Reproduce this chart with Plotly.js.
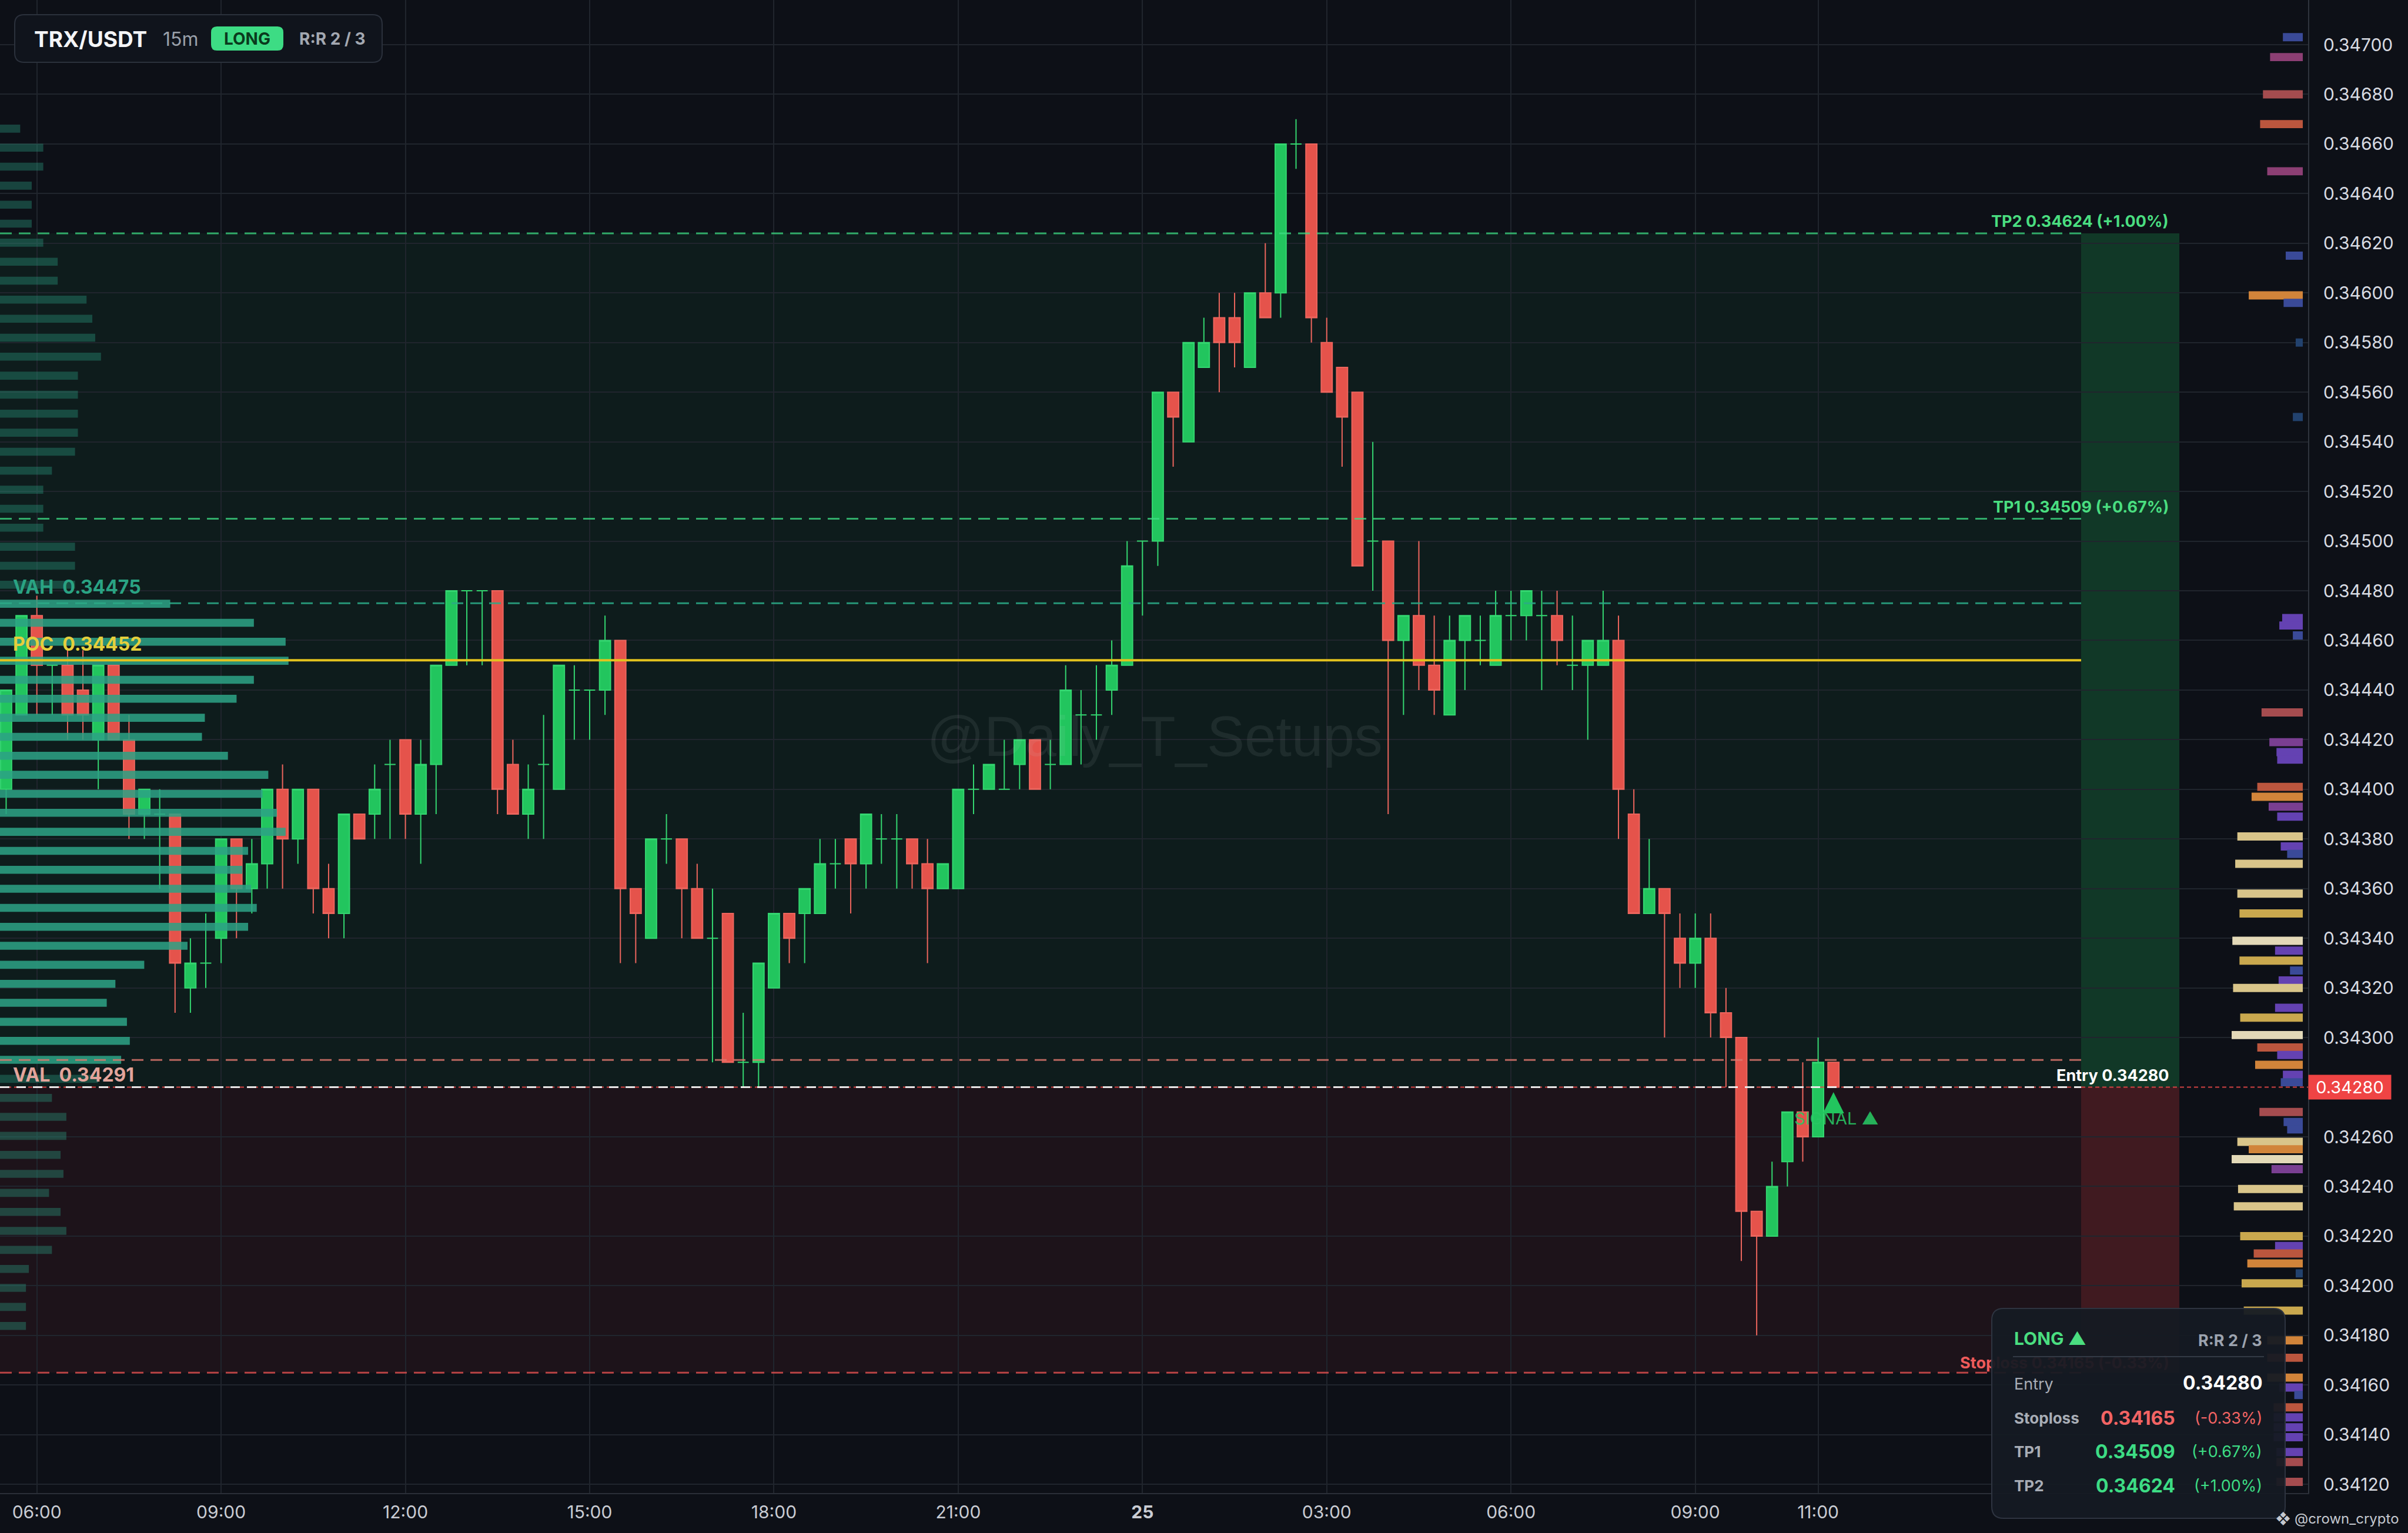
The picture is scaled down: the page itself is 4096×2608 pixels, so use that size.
<!DOCTYPE html>
<html>
<head>
<meta charset="utf-8">
<script src="https://cdn.plot.ly/plotly-3.0.1.min.js"></script>
<style>
  html, body { margin: 0; padding: 0; background: #0d1017; }
  #chart { width: 4096px; height: 2608px; }
</style>
</head>
<body>
<div id="chart"></div>
<script>
// ---------------- DATA ----------------
const firstCandle = Date.UTC(2025, 0, 24, 5, 30); // 24th 05:30, 15m candles
const candleMinutes = 15;

const open = [
  0.34400,0.34430,0.34470,0.34450,0.34450,0.34440,0.34420,0.34450,0.34420,0.34390,
  0.34390,0.34390,0.34320,0.34330,0.34340,0.34380,0.34360,0.34370,0.34400,0.34380,
  0.34400,0.34360,0.34350,0.34390,0.34390,0.34410,0.34420,0.34390,0.34410,0.34450,
  0.34480,0.34480,0.34480,0.34410,0.34390,0.34410,0.34400,0.34440,0.34440,0.34440,
  0.34460,0.34360,0.34340,0.34380,0.34380,0.34360,0.34340,0.34350,0.34290,0.34290,
  0.34320,0.34350,0.34350,0.34350,0.34370,0.34380,0.34370,0.34380,0.34380,0.34380,
  0.34370,0.34360,0.34360,0.34400,0.34400,0.34400,0.34410,0.34420,0.34410,0.34410,
  0.34430,0.34430,0.34440,0.34450,0.34500,0.34500,0.34560,0.34540,0.34570,0.34590,
  0.34590,0.34570,0.34600,0.34600,0.34660,0.34660,0.34580,0.34570,0.34560,0.34500,
  0.34500,0.34460,0.34470,0.34450,0.34430,0.34460,0.34460,0.34450,0.34470,0.34470,
  0.34470,0.34470,0.34450,0.34450,0.34450,0.34460,0.34390,0.34350,0.34360,0.34340,
  0.34330,0.34340,0.34310,0.34300,0.34230,0.34220,0.34250,0.34270,0.34260,0.34290
];
const high = [
  0.34440,0.34470,0.34478,0.34450,0.34456,0.34456,0.34450,0.34450,0.34430,0.34400,
  0.34400,0.34390,0.34340,0.34350,0.34380,0.34380,0.34380,0.34400,0.34410,0.34400,
  0.34400,0.34370,0.34390,0.34390,0.34410,0.34420,0.34420,0.34420,0.34450,0.34480,
  0.34480,0.34480,0.34480,0.34420,0.34410,0.34430,0.34450,0.34450,0.34440,0.34470,
  0.34460,0.34360,0.34380,0.34390,0.34380,0.34370,0.34360,0.34350,0.34310,0.34330,
  0.34350,0.34350,0.34360,0.34380,0.34380,0.34380,0.34390,0.34390,0.34390,0.34380,
  0.34380,0.34370,0.34400,0.34410,0.34410,0.34420,0.34420,0.34420,0.34420,0.34450,
  0.34440,0.34450,0.34460,0.34500,0.34500,0.34560,0.34560,0.34580,0.34590,0.34600,
  0.34600,0.34600,0.34620,0.34660,0.34670,0.34660,0.34590,0.34570,0.34560,0.34540,
  0.34500,0.34470,0.34500,0.34470,0.34470,0.34470,0.34470,0.34480,0.34480,0.34480,
  0.34480,0.34480,0.34470,0.34460,0.34480,0.34470,0.34400,0.34380,0.34360,0.34350,
  0.34350,0.34350,0.34320,0.34300,0.34230,0.34250,0.34270,0.34290,0.34300,0.34290
];
const low = [
  0.34390,0.34430,0.34430,0.34430,0.34420,0.34420,0.34400,0.34420,0.34380,0.34380,
  0.34360,0.34310,0.34310,0.34320,0.34330,0.34340,0.34350,0.34360,0.34360,0.34370,
  0.34350,0.34340,0.34340,0.34380,0.34380,0.34380,0.34380,0.34370,0.34390,0.34450,
  0.34450,0.34450,0.34390,0.34390,0.34380,0.34380,0.34400,0.34420,0.34420,0.34430,
  0.34330,0.34330,0.34340,0.34370,0.34340,0.34340,0.34290,0.34290,0.34280,0.34280,
  0.34320,0.34330,0.34330,0.34350,0.34360,0.34350,0.34360,0.34370,0.34360,0.34360,
  0.34330,0.34360,0.34360,0.34390,0.34400,0.34400,0.34400,0.34400,0.34400,0.34410,
  0.34410,0.34420,0.34430,0.34450,0.34470,0.34490,0.34530,0.34540,0.34570,0.34560,
  0.34570,0.34570,0.34590,0.34590,0.34650,0.34580,0.34560,0.34530,0.34490,0.34480,
  0.34390,0.34430,0.34440,0.34430,0.34430,0.34440,0.34450,0.34450,0.34460,0.34460,
  0.34440,0.34450,0.34440,0.34420,0.34450,0.34380,0.34350,0.34350,0.34300,0.34320,
  0.34320,0.34300,0.34280,0.34210,0.34180,0.34220,0.34240,0.34250,0.34260,0.34280
];
const close = [
  0.34440,0.34470,0.34450,0.34450,0.34430,0.34430,0.34450,0.34420,0.34390,0.34400,
  0.34390,0.34330,0.34330,0.34330,0.34380,0.34360,0.34370,0.34400,0.34380,0.34400,
  0.34360,0.34350,0.34390,0.34380,0.34400,0.34410,0.34390,0.34410,0.34450,0.34480,
  0.34480,0.34480,0.34400,0.34390,0.34400,0.34410,0.34450,0.34440,0.34440,0.34460,
  0.34360,0.34350,0.34380,0.34380,0.34360,0.34340,0.34340,0.34290,0.34290,0.34330,
  0.34350,0.34340,0.34360,0.34370,0.34370,0.34370,0.34390,0.34380,0.34380,0.34370,
  0.34360,0.34370,0.34400,0.34400,0.34410,0.34400,0.34420,0.34400,0.34410,0.34440,
  0.34430,0.34430,0.34450,0.34490,0.34500,0.34560,0.34550,0.34580,0.34580,0.34580,
  0.34580,0.34600,0.34590,0.34660,0.34660,0.34590,0.34560,0.34550,0.34490,0.34500,
  0.34460,0.34470,0.34450,0.34440,0.34460,0.34470,0.34460,0.34470,0.34470,0.34480,
  0.34470,0.34460,0.34450,0.34460,0.34460,0.34400,0.34350,0.34360,0.34350,0.34330,
  0.34340,0.34310,0.34300,0.34230,0.34220,0.34240,0.34270,0.34260,0.34290,0.34280
];

// time axis ticks
const xTickVals = ['2025-01-24 06:00','2025-01-24 09:00','2025-01-24 12:00','2025-01-24 15:00',
  '2025-01-24 18:00','2025-01-24 21:00','2025-01-25 00:00','2025-01-25 03:00',
  '2025-01-25 06:00','2025-01-25 09:00','2025-01-25 11:00'];
const xTickText = ['06:00','09:00','12:00','15:00','18:00','21:00','<b>25</b>','03:00','06:00','09:00','11:00'];

// price axis ticks (0.34280 is covered by the live price tag)
const yTickVals = [0.34120,0.34140,0.34160,0.34180,0.34200,0.34220,0.34240,0.34260,
  0.34300,0.34320,0.34340,0.34360,0.34380,0.34400,0.34420,0.34440,0.34460,0.34480,
  0.34500,0.34520,0.34540,0.34560,0.34580,0.34600,0.34620,0.34640,0.34660,0.34680,0.34700];

// trade levels
const entry = 0.34280, stoploss = 0.34165, tp1 = 0.34509, tp2 = 0.34624;
const poc = 0.34452, vah = 0.34475, val = 0.34291;

// volume profile (64 bins from profile high to low), relative volume (POC = 100)
const profileHigh = 0.34670, profileLow = 0.34180;
const profileVolume = [
  7,15,15,11,11,11,15,20,20,30,32,33,35,27,27,27,27,26,18,15,15,15,26,26,26,
  59,88,99,100,88,82,71,70,79,93,91,96,99,86,84,87,89,86,65,50,40,37,44,45,42,
  34,18,23,23,21,22,17,21,23,18,10,9,9,9
];

// order-book depth bars on the right (price, relative size, kind)
const depthPrice = [
  0.34703,0.34695,0.34680,0.34668,0.34649,0.34615,0.34599,0.34596,0.34580,0.34550,
  0.34469,0.34466,0.34462,0.34431,0.34419,0.34415,0.34412,0.34401,0.34397,0.34393,
  0.34389,0.34381,0.34377,0.34374,0.34370,0.34358,0.34350,0.34339,0.34335,0.34331,
  0.34327,0.34323,0.34320,0.34312,0.34308,0.34301,0.34296,0.34293,0.34289,0.34285,
  0.34282,0.34270,0.34266,0.34263,0.34258,0.34255,0.34251,0.34247,0.34239,0.34232,
  0.34220,0.34216,0.34213,0.34209,0.34205,0.34201,0.34190,0.34178,0.34171,0.34163,
  0.34159,0.34156,0.34151,0.34147,0.34143,0.34139,0.34133,0.34129,0.34121
];
const depthSize = [
  28,46,56,60,50,24,76,27,10,14,
  29,33,14,58,47,37,36,64,72,48,
  36,92,31,22,95,92,89,99,39,89,
  18,34,98,39,88,100,64,36,67,28,
  31,61,27,22,92,76,100,44,91,97,
  88,39,69,78,10,86,83,50,50,50,
  33,12,41,41,41,41,37,37,37
];
const depthKind = [
  'blue','magenta','salmon','rust','magenta','blue','orange','blue','navy','navy',
  'violet','violet','blue','salmon','purple','violet','violet','rust','orange','purple',
  'violet','cream','violet','blue','cream','cream','gold','pale','violet','gold',
  'blue','violet','cream','violet','gold','pale','rust','violet','orange','violet',
  'blue','salmon','blue','blue','cream','orange','pale','purple','cream','cream',
  'gold','violet','rust','orange','navy','gold','gold','orange','rust','orange',
  'violet','blue','rust','violet','violet','violet','violet','salmon','salmon'
];

// ---------------- BUILD ----------------
const FONT = 'Inter, "Noto Sans", Roboto, sans-serif';
const PW = 3926, PH = 2540;              // plot area size in px
const px = v => v / PW;                  // px -> paper x
const py = v => 1 - v / PH;              // px -> paper y

function fmt(ms) {
  const d = new Date(ms), p = n => String(n).padStart(2, '0');
  return d.getUTCFullYear() + '-' + p(d.getUTCMonth() + 1) + '-' + p(d.getUTCDate()) + ' ' + p(d.getUTCHours()) + ':' + p(d.getUTCMinutes());
}
const times = open.map((_, i) => fmt(firstCandle + i * candleMinutes * 60000));

const up = { x: [], o: [], h: [], l: [], c: [] }, dn = { x: [], o: [], h: [], l: [], c: [] };
open.forEach((o, i) => {
  const t = close[i] >= o ? up : dn;
  t.x.push(times[i]); t.o.push(o); t.h.push(high[i]); t.l.push(low[i]); t.c.push(close[i]);
});

const GREEN = '#22c55e', GREEN_LINE = '#34d670';
const RED = '#e5534b', RED_LINE = '#ec655d';

const binSize = (profileHigh - profileLow) / profileVolume.length;
const profilePrice = profileVolume.map((_, k) => profileHigh - (k + 0.5) * binSize);
const profileColor = profilePrice.map(p => (p >= val - 1e-6 && p <= vah + 1e-6) ? 'rgba(44,162,133,0.86)' : 'rgba(44,162,133,0.36)');

const depthPalette = {
  blue: '#3a4a98', navy: '#22426e', magenta: '#8c3f74', salmon: '#a54c4f', rust: '#bb563e',
  orange: '#d1843a', violet: '#6442b2', purple: '#7a3f92', cream: '#d9c58a', gold: '#c9a84e', pale: '#e3d9b8'
};

const traces = [
  { // watermark (under candles)
    type: 'scatter', mode: 'text', x: ['2025-01-25 00:12'], y: [0.344191],
    text: ['@Daily_T_Setups'], textposition: 'middle center', cliponaxis: false,
    textfont: { family: '"Liberation Sans", Arial, sans-serif', size: 96, color: 'rgba(200,206,214,0.09)' },
    hoverinfo: 'skip', showlegend: false
  },
  { // stoploss label (sits under the info panel)
    type: 'scatter', mode: 'text', x: ['2025-01-25 16:43'], y: [stoploss],
    text: ['<b>Stoploss ' + stoploss.toFixed(5) + ' (-0.33%)</b>'], textposition: 'top left',
    textfont: { family: FONT, size: 27, color: '#ef5b5b' }, cliponaxis: false,
    hoverinfo: 'skip', showlegend: false
  },
  {
    type: 'candlestick', x: up.x, open: up.o, high: up.h, low: up.l, close: up.c,
    increasing: { line: { color: GREEN_LINE, width: 2 }, fillcolor: GREEN },
    decreasing: { line: { color: GREEN_LINE, width: 2 }, fillcolor: GREEN },
    whiskerwidth: 0, hoverinfo: 'skip', showlegend: false
  },
  {
    type: 'candlestick', x: dn.x, open: dn.o, high: dn.h, low: dn.l, close: dn.c,
    increasing: { line: { color: RED_LINE, width: 2 }, fillcolor: RED },
    decreasing: { line: { color: RED_LINE, width: 2 }, fillcolor: RED },
    whiskerwidth: 0, hoverinfo: 'skip', showlegend: false
  },
  { // signal label (drawn over the candles)
    type: 'scatter', mode: 'text', x: ['2025-01-25 11:18'], y: [0.342666],
    text: ['SIGNAL ▲'], textposition: 'middle center',
    textfont: { family: FONT, size: 29, color: 'rgba(40,200,100,0.9)' },
    hoverinfo: 'skip', showlegend: false
  },
  { // volume profile
    type: 'bar', orientation: 'h', x: profileVolume, y: profilePrice, xaxis: 'x2', yaxis: 'y',
    width: binSize * 0.42, marker: { color: profileColor, line: { width: 0 } },
    hoverinfo: 'skip', showlegend: false
  },
  { // depth bars at right edge
    type: 'bar', orientation: 'h', x: depthSize, y: depthPrice, xaxis: 'x3', yaxis: 'y',
    width: 0.000033, marker: { color: depthKind.map(k => depthPalette[k]), line: { width: 0 } },
    hoverinfo: 'skip', showlegend: false
  }
];

// ---------- shapes ----------
function rrect(x0, y0, x1, y1, r) {
  const X = v => px(v).toFixed(6), Y = v => py(v).toFixed(6);
  return `M${X(x0 + r)},${Y(y0)} L${X(x1 - r)},${Y(y0)} Q${X(x1)},${Y(y0)} ${X(x1)},${Y(y0 + r)} ` +
         `L${X(x1)},${Y(y1 - r)} Q${X(x1)},${Y(y1)} ${X(x1 - r)},${Y(y1)} L${X(x0 + r)},${Y(y1)} ` +
         `Q${X(x0)},${Y(y1)} ${X(x0)},${Y(y1 - r)} L${X(x0)},${Y(y0 + r)} Q${X(x0)},${Y(y0)} ${X(x0 + r)},${Y(y0)} Z`;
}
const colStart = px(3540), zoneEnd = px(3707);
function hline(y, x1, color, width, dash) {
  return { type: 'line', xref: 'paper', yref: 'y', x0: 0, x1: x1, y0: y, y1: y, layer: 'above',
           line: { color, width, dash } };
}
const shapes = [
  { type: 'rect', xref: 'paper', yref: 'y', x0: 0, x1: zoneEnd, y0: entry, y1: tp2, layer: 'below', line: { width: 0 }, fillcolor: 'rgba(34,197,94,0.07)' },
  { type: 'rect', xref: 'paper', yref: 'y', x0: colStart, x1: zoneEnd, y0: entry, y1: tp2, layer: 'below', line: { width: 0 }, fillcolor: 'rgba(34,197,94,0.17)' },
  { type: 'rect', xref: 'paper', yref: 'y', x0: 0, x1: zoneEnd, y0: stoploss, y1: entry, layer: 'below', line: { width: 0 }, fillcolor: 'rgba(239,68,68,0.07)' },
  { type: 'rect', xref: 'paper', yref: 'y', x0: colStart, x1: zoneEnd, y0: stoploss, y1: entry, layer: 'below', line: { width: 0 }, fillcolor: 'rgba(239,68,68,0.17)' },
  hline(tp2, colStart, 'rgba(61,220,132,0.75)', 3, '20px,12px'),
  hline(tp1, colStart, 'rgba(61,220,132,0.75)', 3, '20px,12px'),
  hline(vah, colStart, 'rgba(44,170,135,0.85)', 3, '20px,12px'),
  hline(poc, colStart, '#e3c21e', 4, 'solid'),
  hline(val, colStart, 'rgba(225,120,110,0.8)', 3, '20px,12px'),
  hline(entry, 1, 'rgba(229,72,72,0.9)', 2, '7px,5px'),
  hline(entry, colStart, 'rgba(240,240,240,0.95)', 3, '16px,12px'),
  hline(stoploss, colStart, 'rgba(225,80,80,0.8)', 3, '20px,12px'),
  // header panel
  { type: 'path', xref: 'paper', yref: 'paper', layer: 'above', path: rrect(25, 25, 650, 106, 16), fillcolor: '#10141c', line: { color: '#2b313c', width: 2 } },
  { type: 'path', xref: 'paper', yref: 'paper', layer: 'above', path: rrect(359, 45, 482, 86, 10), fillcolor: '#3ddc84', line: { width: 0 } },
  // info panel
  { type: 'path', xref: 'paper', yref: 'paper', layer: 'above', path: rrect(3388, 2226, 3887, 2583, 20), fillcolor: 'rgba(21,26,35,0.95)', line: { color: '#2e3440', width: 2 } },
  { type: 'line', xref: 'paper', yref: 'paper', layer: 'above', x0: px(3424), x1: px(3851), y0: py(2308), y1: py(2308), line: { color: '#333a46', width: 2 } }
];

// ---------- annotations ----------
function note(x, y, text, size, color, xanchor, extra) {
  return Object.assign({ xref: 'paper', yref: 'paper', x, y, text, showarrow: false,
    xanchor: xanchor || 'left', yanchor: 'middle', font: { family: FONT, size, color } }, extra || {});
}
function level(y, text, color, above, shift) {
  return { xref: 'paper', yref: 'y', x: px(20), y, text, showarrow: false, xanchor: 'left',
           yanchor: above ? 'bottom' : 'top', yshift: shift, font: { family: FONT, size: 32, color } };
}
function rlabel(y, text, color) {
  return { xref: 'paper', yref: 'y', x: px(3691), y, text, showarrow: false, xanchor: 'right',
           yanchor: 'bottom', yshift: 2, font: { family: FONT, size: 27, color } };
}
const fx = v => v.toFixed(5);
const annotations = [
  // header
  note(px(56), py(66), '<b>TRX/USDT</b>', 37, '#f4f5f7'),
  note(px(275), py(66), '15m', 32, '#9aa0aa'),
  note(px(420.5), py(66), '<b>LONG</b>', 28, '#0a3a1d', 'center'),
  note(px(507), py(66), '<b>R:R 2 / 3</b>', 28, '#a3a8b1'),
  // profile levels
  level(vah, '<b>VAH  ' + fx(vah) + '</b>', '#2aa383', true, 6),
  level(poc, '<b>POC  ' + fx(poc) + '</b>', '#e5cf3c', true, 6),
  level(val, '<b>VAL  ' + fx(val) + '</b>', '#e3a49b', false, -4),
  // trade levels
  rlabel(tp2, '<b>TP2 ' + fx(tp2) + ' (+1.00%)</b>', '#4ade80'),
  rlabel(tp1, '<b>TP1 ' + fx(tp1) + ' (+0.67%)</b>', '#4ade80'),
  rlabel(entry, '<b>Entry ' + fx(entry) + '</b>', '#ffffff'),
  // price tag on axis
  { xref: 'paper', yref: 'y', x: 1, y: entry, text: fx(entry), showarrow: false, xanchor: 'left', yanchor: 'middle',
    bgcolor: '#ef4444', borderpad: 4, width: 132, height: 33, font: { family: FONT, size: 29, color: '#ffffff' } },
  // signal arrow
  { xref: 'x', yref: 'y', x: '2025-01-25 11:15', y: 0.34278, ax: 0, ay: 26, text: '', showarrow: true,
    arrowhead: 2, arrowsize: 0.8, arrowwidth: 9, arrowcolor: '#22c55e' },
  // info panel
  note(px(3424), py(2277), '<b>LONG ▲</b>', 30, '#4ade80'),
  note(px(3850), py(2280), '<b>R:R 2 / 3</b>', 27, '#9ca3af', 'right'),
  note(px(3424), py(2354), 'Entry', 27, '#a8adb6'),
  note(px(3850), py(2352), '<b>' + fx(entry) + '</b>', 32, '#ffffff', 'right'),
  note(px(3424), py(2412), '<b>Stoploss</b>', 26, '#a8adb6'),
  note(px(3702), py(2412), '<b>' + fx(stoploss) + '</b>', 32, '#f26464', 'right'),
  note(px(3850), py(2412), '(-0.33%)', 27, '#f26464', 'right'),
  note(px(3424), py(2469), '<b>TP1</b>', 26, '#a8adb6'),
  note(px(3702), py(2469), '<b>' + fx(tp1) + '</b>', 32, '#3ddc84', 'right'),
  note(px(3850), py(2469), '(+0.67%)', 27, '#3ddc84', 'right'),
  note(px(3424), py(2527), '<b>TP2</b>', 26, '#a8adb6'),
  note(px(3702), py(2527), '<b>' + fx(tp2) + '</b>', 32, '#3ddc84', 'right'),
  note(px(3850), py(2527), '(+1.00%)', 27, '#3ddc84', 'right'),
  // source mark
  note(px(3869), py(2583), '❖ @crown_crypto', 24, '#c4c8cf')
];

const layout = {
  width: 4096, height: 2608,
  paper_bgcolor: '#0d1017', plot_bgcolor: '#0d1017',
  margin: { l: 0, r: 170, t: 0, b: 68, pad: 0 },
  showlegend: false, hovermode: false,
  boxgap: 0.28, boxgroupgap: 0, barmode: 'overlay',
  font: { family: FONT, size: 30, color: '#d1d4dc' },
  xaxis: {
    type: 'date', range: ['2025-01-24 05:24', '2025-01-25 18:58:36'],
    rangeslider: { visible: false }, tickmode: 'array', tickvals: xTickVals, ticktext: xTickText,
    showgrid: true, gridcolor: '#20252d', gridwidth: 2, zeroline: false,
    showline: true, linecolor: '#2a2f38', linewidth: 2,
    ticks: 'outside', ticklen: 5, tickcolor: 'rgba(0,0,0,0)',
    tickfont: { family: FONT, size: 30, color: '#c9ccd3' }, fixedrange: true
  },
  xaxis2: { overlaying: 'x', anchor: 'y', range: [0, 800], visible: false, fixedrange: true },
  xaxis3: { overlaying: 'x', anchor: 'y', range: [3237.2, -7.4], visible: false, fixedrange: true },
  yaxis: {
    side: 'right', range: [0.341165, 0.347180], tickmode: 'array', tickvals: yTickVals, tickformat: '.5f',
    showgrid: true, gridcolor: '#20252d', gridwidth: 2, zeroline: false,
    showline: true, linecolor: '#2f343d', linewidth: 2,
    ticks: 'outside', ticklen: 18, tickcolor: 'rgba(0,0,0,0)',
    tickfont: { family: FONT, size: 30, color: '#d8dbe2' }, fixedrange: true
  },
  shapes, annotations
};

Plotly.newPlot('chart', traces, layout, { staticPlot: true, displayModeBar: false });
</script>
</body>
</html>
